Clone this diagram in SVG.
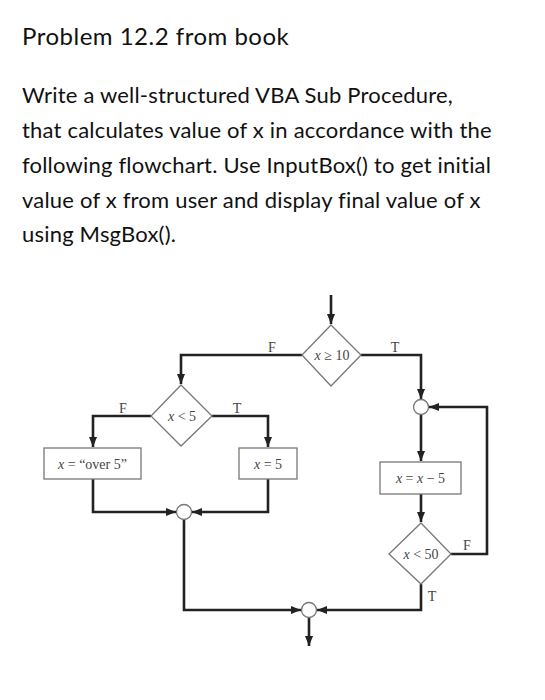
<svg xmlns="http://www.w3.org/2000/svg" width="545" height="700" viewBox="0 0 545 700">
<style>
.title{font-family:Lato,"Liberation Sans",sans-serif;font-size:24px;letter-spacing:0.5px;fill:#111}
.body{font-family:Lato,"Liberation Sans",sans-serif;font-size:22px;letter-spacing:0.2px;fill:#111}
.shape{fill:#fff;stroke:#777;stroke-width:1.3}
.lbl{font-family:"Liberation Serif","Times New Roman",serif;font-size:14px;fill:#444}
.flow{fill:none;stroke:#222;stroke-width:2.6}
.it{font-style:italic}
</style>
<defs>
<marker id="ah" viewBox="0 0 10 8" refX="10" refY="4" markerWidth="10" markerHeight="8" markerUnits="userSpaceOnUse" orient="auto">
<path d="M0,0 L10,4 L0,8 Z" fill="#222"/>
</marker>
</defs>
<rect width="545" height="700" fill="#fff"/>
<text class="title" x="22" y="45">Problem 12.2 from book</text>
<g class="body">
<text x="22" y="103">Write a well-structured VBA Sub Procedure,</text>
<text x="22" y="138">that calculates value of x in accordance with the</text>
<text x="22" y="173">following flowchart. Use InputBox() to get initial</text>
<text x="22" y="208">value of x from user and display final value of x</text>
<text x="22" y="242">using MsgBox().</text>
</g>
<g id="connectors">
<path class="flow" d="M331,295 V324" marker-end="url(#ah)"/>
<path class="flow" d="M302,355 H181 V384" marker-end="url(#ah)"/>
<path class="flow" d="M361,355 H421 V399" marker-end="url(#ah)"/>
<path class="flow" d="M151,416 H93 V447" marker-end="url(#ah)"/>
<path class="flow" d="M212,416 H268 V447" marker-end="url(#ah)"/>
<path class="flow" d="M93,479 V512 H176" marker-end="url(#ah)"/>
<path class="flow" d="M268,479 V512 H192" marker-end="url(#ah)"/>
<path class="flow" d="M184,520 V610 H301" marker-end="url(#ah)"/>
<path class="flow" d="M421,415 V461" marker-end="url(#ah)"/>
<path class="flow" d="M421,494 V522" marker-end="url(#ah)"/>
<path class="flow" d="M451,554 H487 V407 H429" marker-end="url(#ah)"/>
<path class="flow" d="M421,584 V610 H317" marker-end="url(#ah)"/>
<path class="flow" d="M309,618 V646" marker-end="url(#ah)"/>
</g>
<g id="d-ge10">
<polygon class="shape" points="331,325 361,355 331,386 302,355"/>
<text class="lbl" x="332" y="360" text-anchor="middle"><tspan class="it">x</tspan> ≥ 10</text>
</g>
<g id="d-lt5">
<polygon class="shape" points="181,385 212,416 181,446 151,416"/>
<text class="lbl" x="182" y="421" text-anchor="middle"><tspan class="it">x</tspan> &lt; 5</text>
</g>
<g id="b-over5">
<rect class="shape" x="44" y="448" width="97" height="31"/>
<text class="lbl" x="92.5" y="468.5" text-anchor="middle"><tspan class="it">x</tspan> = “over 5”</text>
</g>
<g id="b-eq5">
<rect class="shape" x="239" y="448" width="58" height="31"/>
<text class="lbl" x="268" y="468.5" text-anchor="middle"><tspan class="it">x</tspan> = 5</text>
</g>
<g id="c-join1">
<circle class="shape" cx="184" cy="512" r="7.5"/>
</g>
<g id="c-loop">
<circle class="shape" cx="421" cy="407" r="7.5"/>
</g>
<g id="b-sub5">
<rect class="shape" x="380" y="462" width="81" height="32"/>
<text class="lbl" x="420.5" y="483" text-anchor="middle"><tspan class="it">x</tspan> = <tspan class="it">x</tspan> − 5</text>
</g>
<g id="d-lt50">
<polygon class="shape" points="421,523 451,554 421,584 389,554"/>
<text class="lbl" x="421" y="559" text-anchor="middle"><tspan class="it">x</tspan> &lt; 50</text>
</g>
<g id="c-join2">
<circle class="shape" cx="309" cy="610" r="7.5"/>
</g>
<g id="labels" class="lbl">
<text x="272" y="352" text-anchor="middle">F</text>
<text x="395" y="352" text-anchor="middle">T</text>
<text x="123" y="413" text-anchor="middle">F</text>
<text x="237" y="413" text-anchor="middle">T</text>
<text x="467" y="550" text-anchor="middle">F</text>
<text x="432" y="601" text-anchor="middle">T</text>
</g>
</svg>
